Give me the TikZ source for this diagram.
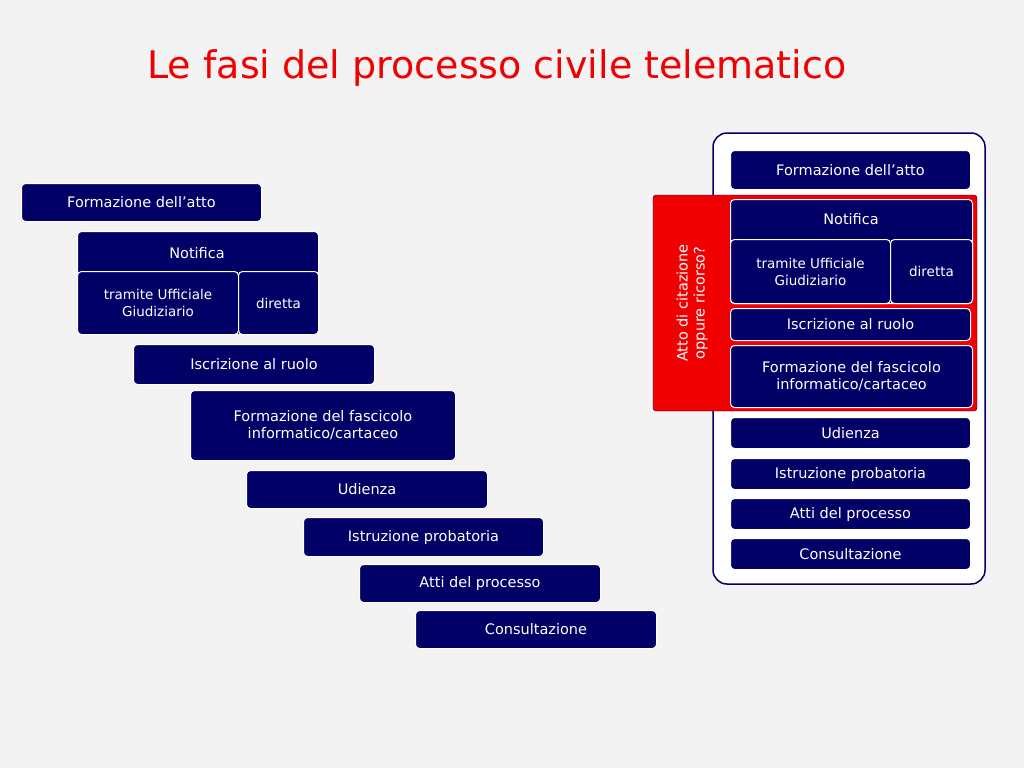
\documentclass[tikz,border=0pt]{standalone}
\usepackage{fontspec}
\setmainfont{DejaVu Sans}
\definecolor{navy}{HTML}{000066}
\definecolor{paper}{HTML}{F3F3F3}
\definecolor{titred}{HTML}{F00000}
\begin{document}
\begin{tikzpicture}[x=1pt,y=-1pt,
  fase/.style={draw=white,fill=navy,text=white,rounded corners=4pt,line width=1pt,
    anchor=north west,inner sep=1pt,align=center,font=\fontsize{14.5}{17}\selectfont},
  sub/.style={fase,font=\fontsize{13.5}{17}\selectfont}]
  \fill[paper] (0,0) rectangle (1024,768);
  \useasboundingbox (0,0) rectangle (1024,768);
  \node[text=titred,font=\fontsize{38}{44}\selectfont] (titolo) at (497,68) {Le fasi del processo civile telematico};

  % scala a sinistra
  \node[fase,minimum width=240,minimum height=38] (fA) at (21,183) {Formazione dell’atto};
  \node[fase,minimum width=241,minimum height=103,anchor=north west] (fN) at (77,231) {};
  \node[fase,draw=none,fill=none,anchor=north] at (197,246) {Notifica};
  \node[sub,minimum width=161,minimum height=63] (fNu) at (77,271) {tramite Ufficiale\\Giudiziario};
  \node[sub,minimum width=80,minimum height=63] (fNd) at (238,271) {diretta};
  \node[fase,minimum width=241,minimum height=40] (fI) at (133,344) {Iscrizione al ruolo};
  \node[fase,minimum width=265,minimum height=70] (fF) at (190,390) {Formazione del fascicolo\\informatico/cartaceo};
  \node[fase,minimum width=241,minimum height=38] (fU) at (246,470) {Udienza};
  \node[fase,minimum width=240,minimum height=39] (fP) at (303,517) {Istruzione probatoria};
  \node[fase,minimum width=241,minimum height=38] (fT) at (359,564) {Atti del processo};
  \node[fase,minimum width=241,minimum height=38] (fC) at (415,610) {Consultazione};

  % colonna a destra
  \draw[navy,line width=1.5pt,fill=white,rounded corners=14pt] (713,133) rectangle (985,584);
  \draw[navy,fill=titred,rounded corners=3pt] (653,195) rectangle (977,411);
  \node[text=white,rotate=90,align=center,font=\fontsize{14.5}{17}\selectfont] (atto) at (692,303) {Atto di citazione\\oppure ricorso?};
  \node[fase,minimum width=240,minimum height=39] (dA) at (730,150) {Formazione dell’atto};
  \node[fase,minimum width=242,minimum height=104] (dN) at (730,199) {};
  \node[fase,draw=none,fill=none,anchor=north] at (851,212) {Notifica};
  \node[sub,minimum width=160,minimum height=64] (dNu) at (730,239) {tramite Ufficiale\\Giudiziario};
  \node[sub,minimum width=82,minimum height=64] (dNd) at (890,239) {diretta};
  \node[fase,minimum width=240,minimum height=32] (dI) at (730,308) {Iscrizione al ruolo};
  \node[fase,minimum width=242,minimum height=62] (dF) at (730,345) {Formazione del fascicolo\\informatico/cartaceo};
  \node[fase,minimum width=240,minimum height=31] (dU) at (730,417) {Udienza};
  \node[fase,minimum width=240,minimum height=31] (dP) at (730,458) {Istruzione probatoria};
  \node[fase,minimum width=240,minimum height=31] (dT) at (730,498) {Atti del processo};
  \node[fase,minimum width=240,minimum height=31] (dC) at (730,538) {Consultazione};
\end{tikzpicture}
\end{document}
